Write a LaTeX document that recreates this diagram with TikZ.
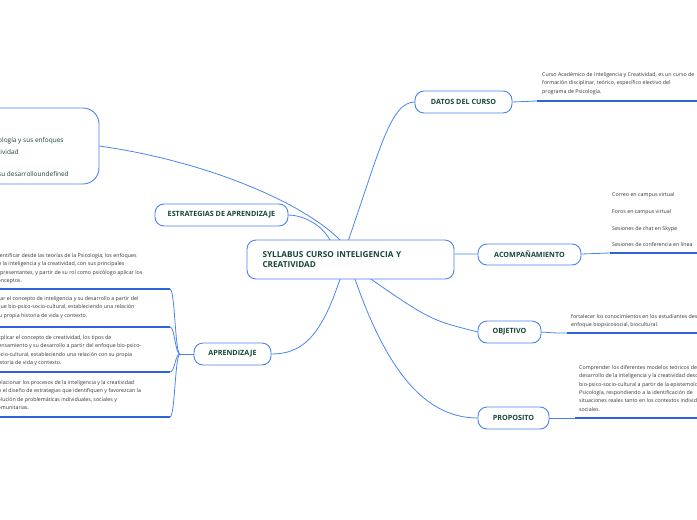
\documentclass[tikz,border=0pt]{standalone}
\usepackage{fontspec}
\setmainfont{Open Sans}
\begin{document}
\begin{tikzpicture}[x=1pt,y=-1pt,
  bx/.style={draw=blb,line width=0.9pt,rounded corners=9pt,fill=white,text=tg,font=\bfseries\fontsize{7.2}{8}\selectfont,inner sep=0pt},
  con/.style={draw=blb,line width=0.8pt},
  ul/.style={draw=uln,line width=1.3pt},
  sm/.style={font=\fontsize{5.3}{8.4}\selectfont,text=black!80,anchor=north west,align=left,inner sep=0pt},
]
\definecolor{blb}{HTML}{4A84F0}
\definecolor{uln}{HTML}{2F63DA}
\definecolor{tg}{HTML}{17463A}
\useasboundingbox (0,0) rectangle (697,520);
\clip (0,0) rectangle (697,520);
% connectors
\coordinate (c) at (345,250);
\draw[con] (c) .. controls (380,150) and (390,102) .. (415,102);
\draw[con] (365,255) .. controls (420,254) .. (478,254);
\draw[con] (365,275) .. controls (430,320) .. (478,332);
\draw[con] (355,279) .. controls (390,380) and (430,418) .. (478,418);
\draw[con] (340,279) .. controls (320,340) and (300,354) .. (271,354);
\draw[con] (330,240) .. controls (320,222) and (300,215) .. (288,215);
\draw[con] (99,146) .. controls (200,160) and (300,200) .. (340,240);
% nodes
\node[bx,minimum width=207pt,minimum height=39pt,align=left,text width=176pt,font=\bfseries\fontsize{8.2}{10.5}\selectfont] (central) at (350.5,259.5) {SYLLABUS CURSO INTELIGENCIA Y\\CREATIVIDAD};
\node[bx,minimum width=97pt,minimum height=22pt] (datos) at (463.5,102) {DATOS DEL CURSO};
\node[bx,minimum width=103pt,minimum height=21pt] (acomp) at (529.5,254.5) {ACOMPAÑAMIENTO};
\node[bx,minimum width=63pt,minimum height=22pt] (obj) at (509.5,332) {OBJETIVO};
\node[bx,minimum width=71pt,minimum height=22pt] (prop) at (513.5,418) {PROPOSITO};
\node[bx,minimum width=77pt,minimum height=22pt] (apr) at (232.5,354) {APRENDIZAJE};
\node[bx,minimum width=133pt,minimum height=22pt] (estr) at (221.5,215) {ESTRATEGIAS DE APRENDIZAJE};
\draw[blb,line width=0.9pt,rounded corners=16pt,fill=white] (-40,108) rectangle (99,184);
\node[anchor=west,text=tg,font=\fontsize{6.5}{8}\selectfont,inner sep=0pt] at (-2,141) {ología y sus enfoques};
\node[anchor=west,text=tg,font=\fontsize{6.5}{8}\selectfont,inner sep=0pt] at (-2,152) {tividad};
\node[anchor=west,text=tg,font=\fontsize{6.5}{8}\selectfont,inner sep=0pt] at (-2,174) {su desarrolloundefined};
% datos
\draw[con] (512,102) .. controls (525,102) .. (537,101);
\draw[ul] (537,101) -- (697,101);
\node[sm] at (542,72) {Curso Académico de Inteligencia y Creatividad, es un curso de\\formación disciplinar, teórico, específico electivo del\\programa de Psicología.};
% acomp
\draw[con] (581,254) .. controls (595,254) .. (610,253);
\draw[ul] (610,253) -- (697,253);
\node[sm] at (612,192) {Correo en campus virtual};
\node[sm] at (612,209) {Foros en campus virtual};
\node[sm] at (612,226) {Sesiones de chat en Skype};
\node[sm] at (612,242) {Sesiones de conferencia en línea};
% objetivo
\draw[con] (541,332) .. controls (555,333) .. (567,333);
\draw[ul] (567,333) -- (697,333);
\node[sm] at (571,314) {fortalecer los conocimientos en los estudiantes desde el\\enfoque biopsicosocial, biocultural.};
% proposito
\draw[con] (549,418) .. controls (562,418) .. (575,418);
\draw[ul] (575,418) -- (697,418);
\node[sm] at (579,365) {Comprender los diferentes modelos teóricos del\\desarrollo de la inteligencia y la creatividad desde el enfoque\\bio-psico-socio-cultural a partir de la epistemología de la\\Psicología, respondiendo a la identificación de\\situaciones reales tanto en los contextos individuales y\\sociales.};
% aprendizaje
\coordinate (aj) at (180,354);
\draw[con] (194,354) -- (aj);
\foreach \yy in {289,327,372,417}{\draw[con] (aj) .. controls (175,354) and (175,\yy) .. (170,\yy);}
\draw[ul] (-5,289) -- (170,289);
\draw[ul] (-5,327) -- (170,327);
\draw[ul] (-5,372) -- (170,372);
\draw[ul] (-5,417) -- (170,417);
\node[sm] at (-5,253) {Identificar desde las teorías de la Psicología, los enfoques\\de la inteligencia y la creatividad, con sus principales\\representantes, y partir de su rol como psicólogo aplicar los\\conceptos.};
\node[sm] at (-14,296) {Explicar el concepto de inteligencia y su desarrollo a partir del\\enfoque bio-psico-socio-cultural, estableciendo una relación\\con su propia historia de vida y contexto.};
\node[sm] at (-5,335) {Explicar el concepto de creatividad, los tipos de\\pensamiento y su desarrollo a partir del enfoque bio-psico-\\socio-cultural, estableciendo una relación con su propia\\historia de vida y contexto.};
\node[sm] at (-5,380) {Relacionar los procesos de la inteligencia y la creatividad\\en el diseño de estrategias que identifiquen y favorezcan la\\solución de problemáticas individuales, sociales y\\comunitarias.};
\end{tikzpicture}
\end{document}
